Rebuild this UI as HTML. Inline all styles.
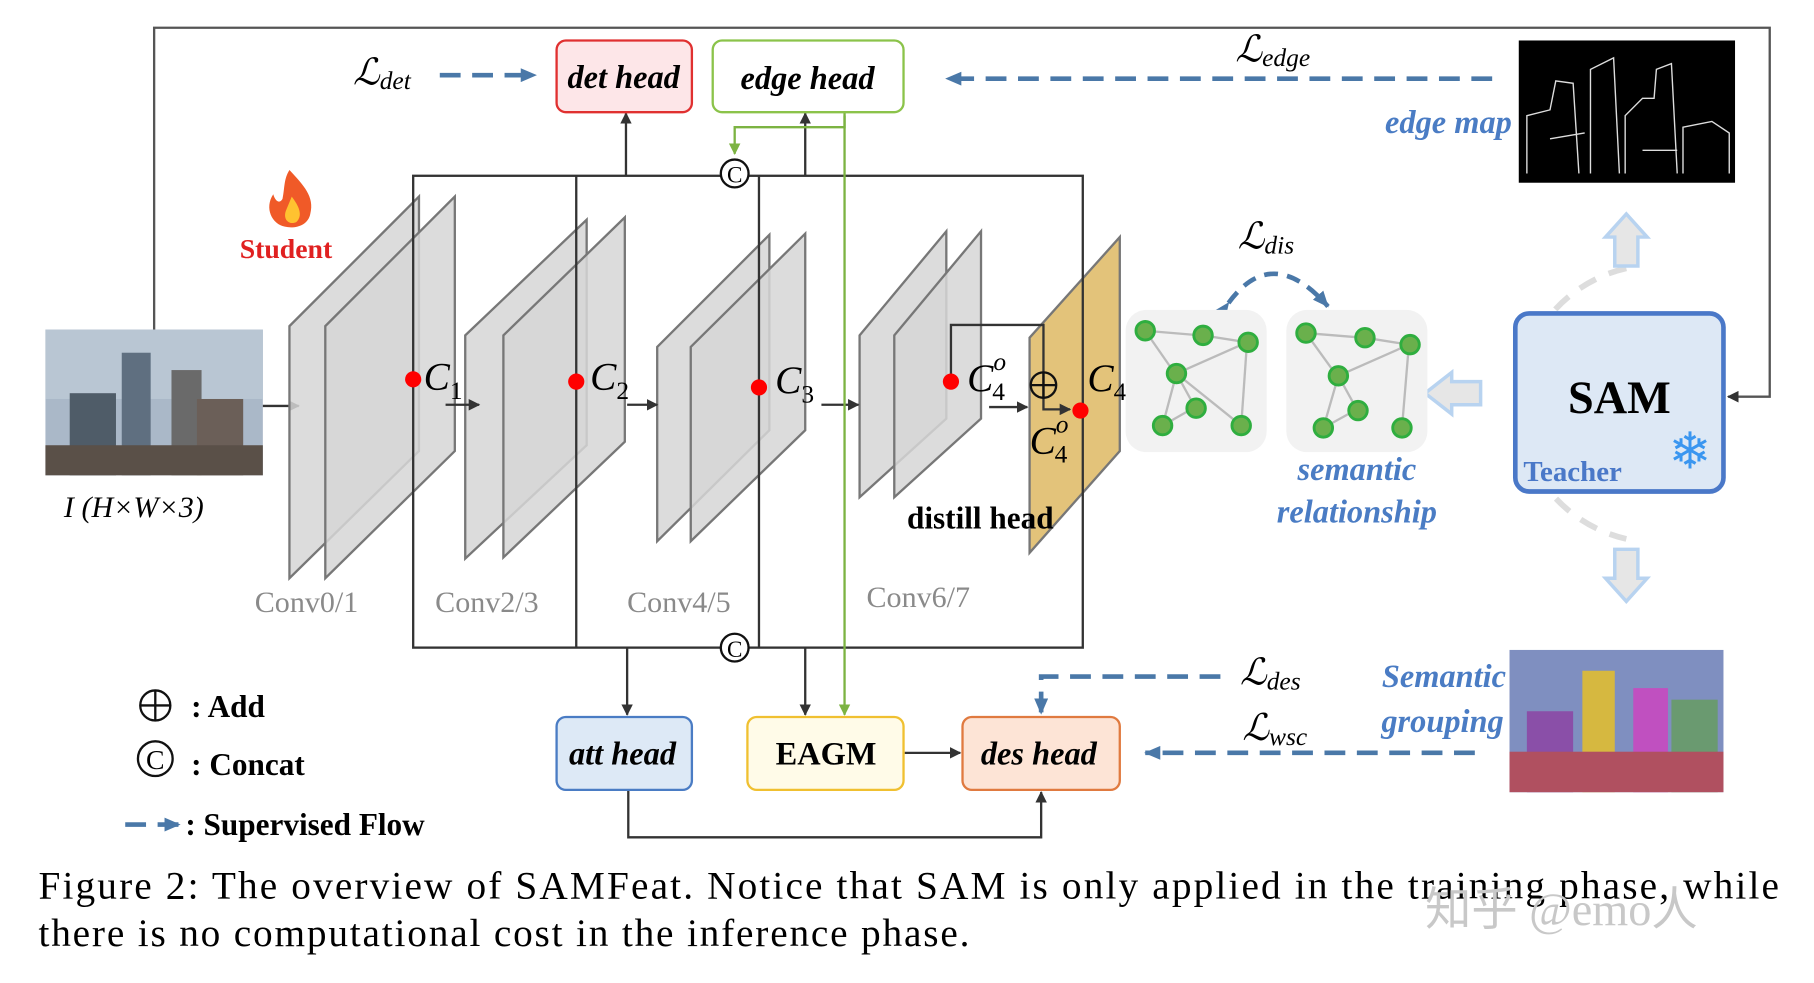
<!DOCTYPE html>
<html><head><meta charset="utf-8"><style>
html,body{margin:0;padding:0;background:#fff;width:1814px;height:983px;overflow:hidden}
text{font-family:"Liberation Serif",serif}
</style></head><body>
<svg width="1814" height="983" viewBox="0 0 1568 850" xmlns="http://www.w3.org/2000/svg">
<defs>
<marker id="a" markerWidth="10" markerHeight="10" refX="9" refY="5" orient="auto" markerUnits="userSpaceOnUse"><path d="M0,0 L10,5 L0,10 z" fill="#333"/></marker>
<marker id="b" markerWidth="14" markerHeight="12" refX="13" refY="6" orient="auto" markerUnits="userSpaceOnUse"><path d="M0,0 L14,6 L0,12 z" fill="#4a78a8"/></marker>
<marker id="g" markerWidth="10" markerHeight="10" refX="9" refY="5" orient="auto" markerUnits="userSpaceOnUse"><path d="M0,0 L10,5 L0,10 z" fill="#7cb342"/></marker>
<marker id="s" markerWidth="7" markerHeight="7" refX="6" refY="3.5" orient="auto-start-reverse" markerUnits="userSpaceOnUse"><path d="M0,0 L7,3.5 L0,7 z" fill="#bbb"/></marker>
</defs>
<polyline points="133,285 133,24 1530,24 1530,343 1494,343" fill="none" stroke="#555" stroke-width="2" marker-end="url(#a)"/>
<rect x="39" y="285" width="188" height="126" fill="#aab8c8"/>
<rect x="39" y="285" width="188" height="60" fill="#b9c6d3"/>
<rect x="105" y="305" width="25" height="106" fill="#5f6f80"/><rect x="148" y="320" width="26" height="91" fill="#6a6a6a"/>
<rect x="60" y="340" width="40" height="71" fill="#4f5c68"/><rect x="170" y="345" width="40" height="66" fill="#6b5f58"/>
<rect x="39" y="385" width="188" height="26" fill="#5a5048"/>
<text x="55" y="447" font-size="26" font-style="italic">I (H×W×3)</text>
<line x1="227" y1="351" x2="258" y2="351" stroke="#333" stroke-width="2" marker-end="url(#a)"/>
<g fill="#d6d6d6" fill-opacity="0.85" stroke="#777" stroke-width="2">
<polygon points="250,282 362,170 362,390 250,500"/>
<polygon points="281,282 393,170 393,390 281,500"/>
<polygon points="402,290 507,190 507,385 402,483"/>
<polygon points="435,290 540,188 540,382 435,482"/>
<polygon points="568,300 665,203 665,372 568,468"/>
<polygon points="597,300 696,202 696,372 597,468"/>
<polygon points="743,290 818,200 818,362 743,430"/>
<polygon points="773,290 848,200 848,362 773,430"/>
</g>
<polygon points="890,292 968,205 968,390 890,478" fill="#e3c37a" stroke="#777" stroke-width="2"/>
<g stroke="#333" stroke-width="2" fill="none">
<rect x="357" y="152" width="579" height="408"/>
<line x1="498" y1="152" x2="498" y2="560"/><line x1="656" y1="152" x2="656" y2="560"/>
<line x1="541" y1="152" x2="541" y2="98" marker-end="url(#a)"/>
<line x1="696" y1="152" x2="696" y2="98" marker-end="url(#a)"/>
<line x1="542" y1="560" x2="542" y2="618" marker-end="url(#a)"/>
<line x1="696" y1="560" x2="696" y2="618" marker-end="url(#a)"/>
<polyline points="543,684 543,724 900,724 900,685" marker-end="url(#a)"/>
<line x1="782" y1="651" x2="830" y2="651" marker-end="url(#a)"/>
<line x1="385" y1="350" x2="414" y2="350" marker-end="url(#a)"/>
<line x1="542" y1="350" x2="568" y2="350" marker-end="url(#a)"/>
<line x1="710" y1="350" x2="742" y2="350" marker-end="url(#a)"/>
<line x1="855" y1="352" x2="888" y2="352" marker-end="url(#a)"/>
<polyline points="822,330 822,281 902,281 902,354 925,354" marker-end="url(#a)"/>
</g>
<line x1="730" y1="97" x2="730" y2="618" stroke="#7cb342" stroke-width="2" marker-end="url(#g)"/>
<polyline points="730,100 730,110 635,110 635,133" fill="none" stroke="#7cb342" stroke-width="2" marker-end="url(#g)"/>
<circle cx="635" cy="150" r="12" fill="#fff" stroke="#111" stroke-width="2"/><text x="635" y="158" font-size="20" text-anchor="middle">C</text>
<circle cx="635" cy="560" r="12" fill="#fff" stroke="#111" stroke-width="2"/><text x="635" y="568" font-size="20" text-anchor="middle">C</text>
<circle cx="902" cy="333" r="11" fill="none" stroke="#111" stroke-width="2"/><line x1="891" y1="333" x2="913" y2="333" stroke="#111" stroke-width="2"/><line x1="902" y1="322" x2="902" y2="344" stroke="#111" stroke-width="2"/>
<g fill="#f00"><circle cx="357" cy="328" r="7"/><circle cx="498" cy="330" r="7"/><circle cx="656" cy="335" r="7"/><circle cx="822" cy="330" r="7"/><circle cx="934" cy="355" r="7"/></g>
<g font-size="34" font-style="italic">
<text x="366" y="337">C<tspan font-size="22" font-style="normal" dy="8">1</tspan></text>
<text x="510" y="337">C<tspan font-size="22" font-style="normal" dy="8">2</tspan></text>
<text x="670" y="340">C<tspan font-size="22" font-style="normal" dy="8">3</tspan></text>
<text x="836" y="338">C<tspan font-size="22" dy="-18">o</tspan><tspan font-size="22" font-style="normal" dx="-12" dy="26">4</tspan></text>
<text x="940" y="338">C<tspan font-size="22" font-style="normal" dy="8">4</tspan></text>
<text x="890" y="392">C<tspan font-size="22" dy="-18">o</tspan><tspan font-size="22" font-style="normal" dx="-12" dy="26">4</tspan></text>
</g>
<g font-size="26" fill="#8a8a8a"><text x="220" y="529">Conv0/1</text><text x="376" y="529">Conv2/3</text><text x="542" y="529">Conv4/5</text><text x="749" y="525">Conv6/7</text></g>
<text x="784" y="457" font-size="27" font-weight="bold">distill head</text>
<path d="M250,147 C262,160 272,170 268,185 C266,195 255,198 246,196 C235,194 228,180 236,168 C238,175 242,176 244,172 C246,162 245,155 250,147z" fill="#f05a28"/>
<path d="M252,170 C258,178 262,186 256,192 C250,195 244,190 247,182z" fill="#ffc230"/>
<text x="207" y="223" font-size="24" font-weight="bold" fill="#e02020">Student</text>
<rect x="481" y="35" width="117" height="62" rx="8" fill="#fde6e8" stroke="#e03030" stroke-width="2"/>
<text x="539" y="76" font-size="28" font-weight="bold" font-style="italic" text-anchor="middle">det head</text>
<rect x="616" y="35" width="165" height="62" rx="8" fill="#fff" stroke="#8bc34a" stroke-width="2"/>
<text x="698" y="77" font-size="28" font-weight="bold" font-style="italic" text-anchor="middle">edge head</text>
<rect x="481" y="620" width="117" height="63" rx="8" fill="#dde9f6" stroke="#4a7cc4" stroke-width="2"/>
<text x="538" y="661" font-size="28" font-weight="bold" font-style="italic" text-anchor="middle">att head</text>
<rect x="646" y="620" width="135" height="63" rx="8" fill="#fffbe8" stroke="#f0c030" stroke-width="2"/>
<text x="714" y="661" font-size="28" font-weight="bold" text-anchor="middle">EAGM</text>
<rect x="832" y="620" width="136" height="63" rx="8" fill="#fde4d6" stroke="#e07a40" stroke-width="2"/>
<text x="898" y="661" font-size="28" font-weight="bold" font-style="italic" text-anchor="middle">des head</text>
<g font-size="32" font-style="italic">
<text x="305" y="73">ℒ<tspan font-size="22" dy="4">det</tspan></text>
<text x="1068" y="53">ℒ<tspan font-size="22" dy="4">edge</tspan></text>
<text x="1070" y="215">ℒ<tspan font-size="22" dy="4">dis</tspan></text>
<text x="1072" y="592">ℒ<tspan font-size="22" dy="4">des</tspan></text>
<text x="1074" y="640">ℒ<tspan font-size="22" dy="4">wsc</tspan></text>
</g>
<g stroke="#4a78a8" stroke-width="4" stroke-dasharray="18,10" fill="none">
<line x1="380" y1="65" x2="463" y2="65" marker-end="url(#b)"/>
<line x1="1290" y1="68" x2="818" y2="68" marker-end="url(#b)"/>
<polyline points="1055,585 900,585 900,617" marker-end="url(#b)"/>
<line x1="1275" y1="651" x2="990" y2="651" marker-end="url(#b)"/>
<path d="M1062,262 Q1100,210 1148,265" stroke-dasharray="12,8" marker-end="url(#b)" marker-start="url(#b)"/>
<line x1="108" y1="713" x2="155" y2="713" marker-end="url(#b)"/>
</g>
<rect x="1313" y="35" width="187" height="123" fill="#000"/>
<g stroke="#ddd" fill="none" stroke-width="1.2">
<path d="M1320,150 L1320,100 L1340,95 L1345,70 L1360,72 L1365,150 M1375,150 L1375,60 L1395,50 L1400,150 M1405,150 L1405,100 L1420,85 L1430,85 L1432,60 L1445,55 L1450,150 M1455,150 L1455,110 L1480,105 L1495,115 L1495,150 M1340,120 L1370,115 M1420,130 L1450,130"/>
</g>
<text x="1307" y="115" font-size="28" font-style="italic" font-weight="bold" fill="#4a7cc4" text-anchor="end">edge map</text>
<path d="M1406,232 A120,120 0 0,0 1406,466" fill="none" stroke="#ddd" stroke-width="5" stroke-dasharray="16,12"/>
<path d="M1396,230 L1396,205 L1388,205 L1406,185 L1424,205 L1416,205 L1416,230z" fill="#e6e6e6" stroke="#b8d3f0" stroke-width="3"/>
<path d="M1396,475 L1396,500 L1388,500 L1406,520 L1424,500 L1416,500 L1416,475z" fill="#e6e6e6" stroke="#b8d3f0" stroke-width="3"/>
<path d="M1280,330 L1255,330 L1255,322 L1232,340 L1255,358 L1255,350 L1280,350z" fill="#e6e6e6" stroke="#b8d3f0" stroke-width="3"/>
<rect x="1310" y="271" width="180" height="154" rx="12" fill="#dde8f5" stroke="#4a78c8" stroke-width="4"/>
<text x="1400" y="357" font-size="40" font-weight="bold" text-anchor="middle">SAM</text>
<text x="1317" y="416" font-size="25" font-weight="bold" fill="#4a78c8">Teacher</text>
<text x="1461" y="405" font-size="44" fill="#3a96f0" text-anchor="middle">❄</text>
<rect x="973" y="268" width="122" height="123" rx="18" fill="#f2f2f2"/>
<rect x="1112" y="268" width="122" height="123" rx="18" fill="#f2f2f2"/>
<g stroke="#bbb" stroke-width="2" marker-end="url(#s)" marker-start="url(#s)">
<line x1="990" y1="286" x2="1038" y2="290"/><line x1="1040" y1="290" x2="1078" y2="296"/><line x1="990" y1="286" x2="1015" y2="322"/><line x1="1017" y1="323" x2="1078" y2="296"/><line x1="1017" y1="323" x2="1005" y2="368"/><line x1="1017" y1="323" x2="1033" y2="352"/><line x1="1033" y1="352" x2="1005" y2="368"/><line x1="1078" y1="296" x2="1073" y2="368"/><line x1="1017" y1="323" x2="1073" y2="368"/>
<line x1="1129" y1="288" x2="1178" y2="292"/><line x1="1180" y1="292" x2="1218" y2="298"/><line x1="1129" y1="288" x2="1155" y2="324"/><line x1="1157" y1="325" x2="1218" y2="298"/><line x1="1157" y1="325" x2="1144" y2="370"/><line x1="1157" y1="325" x2="1173" y2="354"/><line x1="1173" y1="354" x2="1144" y2="370"/><line x1="1218" y1="298" x2="1212" y2="370"/>
</g>
<g fill="#6ab04c" stroke="#2fae3f" stroke-width="2.5">
<circle cx="990" cy="286" r="8"/><circle cx="1040" cy="290" r="8"/><circle cx="1079" cy="296" r="8"/><circle cx="1017" cy="323" r="8"/><circle cx="1034" cy="353" r="8"/><circle cx="1005" cy="368" r="8"/><circle cx="1073" cy="368" r="8"/>
<circle cx="1129" cy="288" r="8"/><circle cx="1180" cy="292" r="8"/><circle cx="1219" cy="298" r="8"/><circle cx="1157" cy="325" r="8"/><circle cx="1174" cy="355" r="8"/><circle cx="1144" cy="370" r="8"/><circle cx="1212" cy="370" r="8"/>
</g>
<text x="1173" y="415" font-size="28" font-style="italic" font-weight="bold" fill="#4a7cc4" text-anchor="middle">semantic</text>
<text x="1173" y="452" font-size="28" font-style="italic" font-weight="bold" fill="#4a7cc4" text-anchor="middle">relationship</text>
<rect x="1305" y="562" width="185" height="123" fill="#7f8fc0"/>
<rect x="1368" y="580" width="28" height="105" fill="#d6b840"/><rect x="1412" y="595" width="30" height="90" fill="#c050c0"/>
<rect x="1320" y="615" width="40" height="70" fill="#8a4fa8"/><rect x="1445" y="605" width="40" height="80" fill="#6a9a70"/>
<rect x="1305" y="650" width="185" height="35" fill="#b05060"/>
<text x="1302" y="594" font-size="28" font-style="italic" font-weight="bold" fill="#4a7cc4" text-anchor="end">Semantic</text>
<text x="1300" y="633" font-size="28" font-style="italic" font-weight="bold" fill="#4a7cc4" text-anchor="end">grouping</text>
<circle cx="134" cy="610" r="13" fill="none" stroke="#111" stroke-width="2"/><line x1="121" y1="610" x2="147" y2="610" stroke="#111" stroke-width="2"/><line x1="134" y1="597" x2="134" y2="623" stroke="#111" stroke-width="2"/>
<text x="165" y="620" font-size="27" font-weight="bold">: Add</text>
<circle cx="134" cy="656" r="15" fill="none" stroke="#111" stroke-width="2"/><text x="134" y="665" font-size="24" text-anchor="middle">C</text>
<text x="165" y="670" font-size="27" font-weight="bold">: Concat</text>
<text x="160" y="722" font-size="27" font-weight="bold">: Supervised Flow</text>
<text x="33" y="777" font-size="34" textLength="1505" lengthAdjust="spacing">Figure 2: The overview of SAMFeat. Notice that SAM is only applied in the training phase, while</text>
<text x="33" y="818" font-size="34" textLength="805" lengthAdjust="spacing">there is no computational cost in the inference phase.</text>
<text x="1232" y="800" font-size="40" fill="#c8c8c8" font-family="Liberation Sans, Noto Sans CJK SC, sans-serif">知乎 @emo人</text>
</svg>
</body></html>
